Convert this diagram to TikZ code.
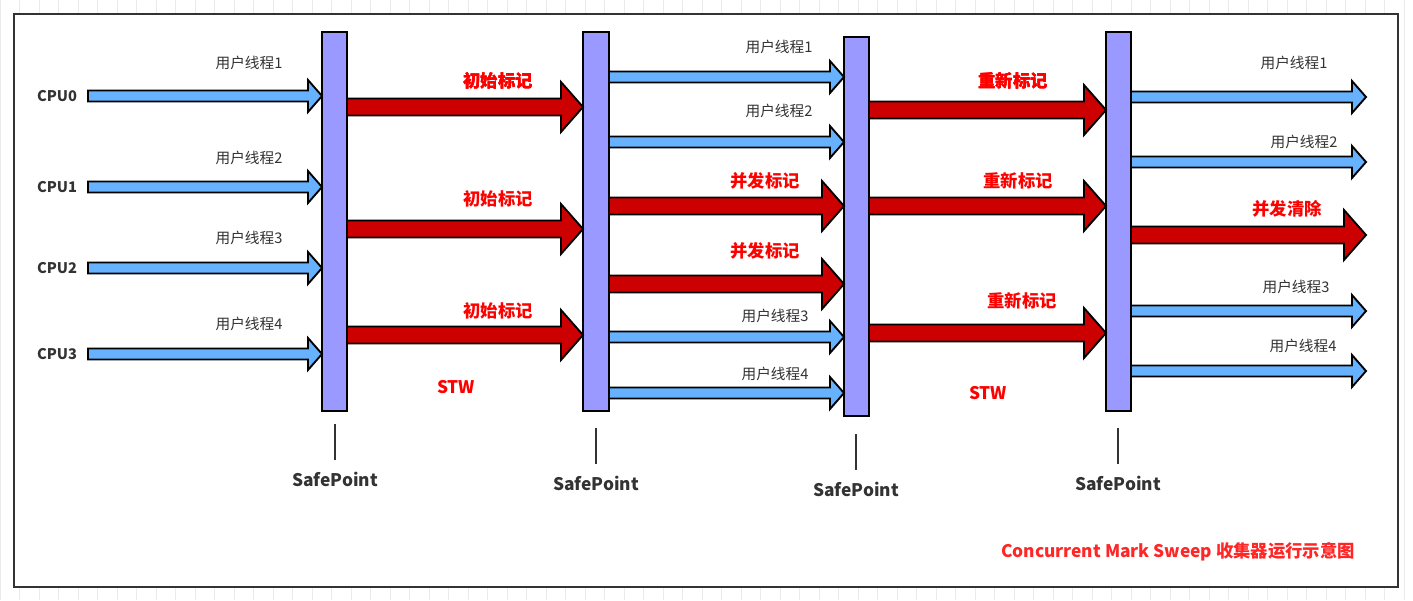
\documentclass[tikz,border=0pt]{standalone}
\usepackage{fontspec}
\setmainfont{Noto Sans CJK SC}
\begin{document}
\begin{tikzpicture}[x=0.75pt,y=-0.75pt,
  line join=miter,
  bar/.style={draw=black,line width=1.5pt,fill=barblue},
  thin arrow/.style={draw=black,line width=1.4pt,fill=arrowblue},
  thick arrow/.style={draw=black,line width=1.4pt,fill=arrowred},
  lbl/.style={font=\fontsize{11}{13}\selectfont,text=black!80},
  red lbl/.style={font=\fontsize{13}{15}\selectfont\bfseries,text=red},
  cpu/.style={font=\fontsize{11}{13}\selectfont\bfseries,text=black!80},
  sp/.style={font=\fontsize{13}{15}\selectfont\bfseries,text=black!80}]
\definecolor{barblue}{HTML}{9999FF}
\definecolor{arrowblue}{HTML}{66B2FF}
\definecolor{arrowred}{HTML}{CC0000}
% #1 x start, #2 x tip, #3 y
\newcommand\bluearrow[3]{\filldraw[thin arrow] (#1,#3-5.5) -- (#2-14,#3-5.5) -- (#2-14,#3-16) -- (#2,#3) -- (#2-14,#3+16) -- (#2-14,#3+5.5) -- (#1,#3+5.5) -- cycle;}
\newcommand\redarrow[3]{\filldraw[thick arrow] (#1,#3-8.5) -- (#2-22,#3-8.5) -- (#2-22,#3-25) -- (#2,#3) -- (#2-22,#3+25) -- (#2-22,#3+8.5) -- (#1,#3+8.5) -- cycle;}

\useasboundingbox (0,0) rectangle (1413,600);
\fill[white] (0,0) rectangle (1413,600);
\draw[black!8] (0,0) grid[step=19.5] (1413,600);
\draw[black!80,line width=1.6pt,fill=white] (14,14) rectangle (1398,587);

% SafePoint bars
\node[bar,minimum width=25*0.75pt,minimum height=379*0.75pt,inner sep=0pt] (b1) at (334.5,221.5) {};
\node[bar,minimum width=26*0.75pt,minimum height=379*0.75pt,inner sep=0pt] (b2) at (596,221.5) {};
\node[bar,minimum width=25*0.75pt,minimum height=379*0.75pt,inner sep=0pt] (b3) at (856.5,226.5) {};
\node[bar,minimum width=25*0.75pt,minimum height=379*0.75pt,inner sep=0pt] (b4) at (1118.5,221.5) {};
\foreach \x/\ya/\yb in {335/424/460,596/428/464,856/434/470,1118/428/464}
  \draw[black!80,line width=1.2pt] (\x,\ya) -- (\x,\yb);
\node[sp] (s1) at (335,479) {SafePoint};
\node[sp] (s2) at (596,483) {SafePoint};
\node[sp] (s3) at (856,489) {SafePoint};
\node[sp] (s4) at (1118,483) {SafePoint};

% CPUs
\foreach \y/\n in {96/0,187/1,268/2,354/3} {
  \node[cpu] at (57,\y) {CPU\n};
  \bluearrow{88}{322}{\y}
}
\node[lbl] at (249,63) {用户线程1};
\node[lbl] at (249,158) {用户线程2};
\node[lbl] at (249,238) {用户线程3};
\node[lbl] at (249,324) {用户线程4};

% initial mark
\foreach \y in {107,229,335} \redarrow{347}{583}{\y}
\node[red lbl] at (498,81) {初始标记};
\node[red lbl] at (498,199) {初始标记};
\node[red lbl] at (498,311) {初始标记};
\node[red lbl] at (456,387) {STW};

% concurrent mark
\bluearrow{609}{844}{77}
\bluearrow{609}{844}{142}
\redarrow{609}{844}{206}
\redarrow{609}{844}{284}
\bluearrow{609}{844}{337}
\bluearrow{609}{844}{393}
\node[lbl] at (779,47) {用户线程1};
\node[lbl] at (779,111) {用户线程2};
\node[red lbl] at (765,181) {并发标记};
\node[red lbl] at (765,251) {并发标记};
\node[lbl] at (775,316) {用户线程3};
\node[lbl] at (775,374) {用户线程4};

% remark
\foreach \y in {110,206,333} \redarrow{869}{1106}{\y}
\node[red lbl] at (1013,81) {重新标记};
\node[red lbl] at (1018,181) {重新标记};
\node[red lbl] at (1022,301) {重新标记};
\node[red lbl] at (988,393) {STW};

% concurrent sweep
\bluearrow{1131}{1366}{97}
\bluearrow{1131}{1366}{162}
\redarrow{1131}{1366}{235}
\bluearrow{1131}{1366}{311}
\bluearrow{1131}{1366}{371}
\node[lbl] at (1294,63) {用户线程1};
\node[lbl] at (1304,142) {用户线程2};
\node[red lbl] at (1287,209) {并发清除};
\node[lbl] at (1296,287) {用户线程3};
\node[lbl] at (1303,346) {用户线程4};

\node[font=\fontsize{13}{15}\selectfont\bfseries,text=red!85!white] at (1178,552) {Concurrent Mark Sweep 收集器运行示意图};
\end{tikzpicture}
\end{document}
